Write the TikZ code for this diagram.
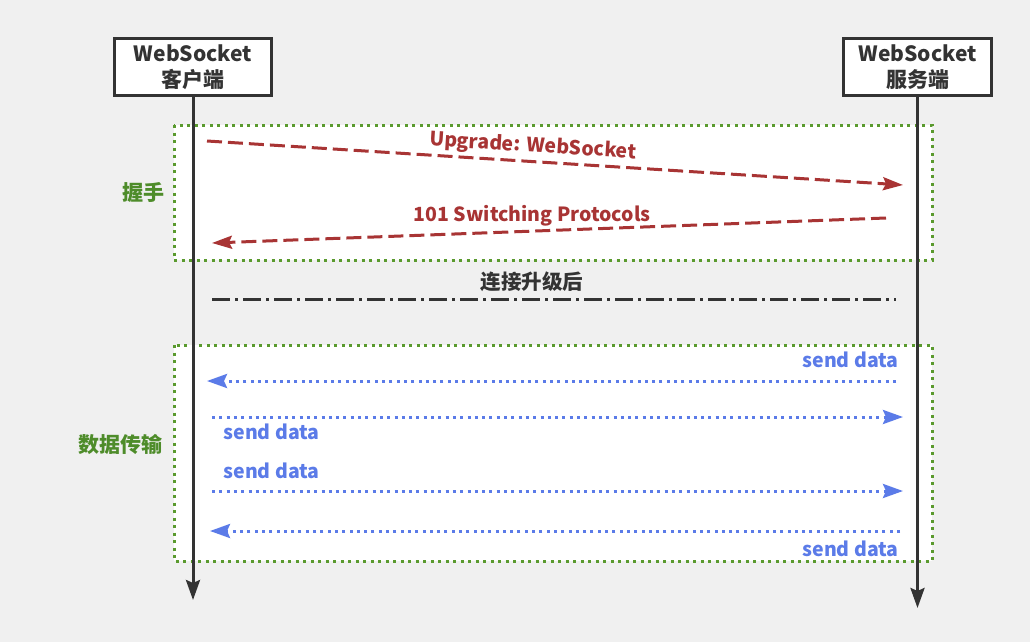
\documentclass[tikz,border=0pt]{standalone}
\usepackage{fontspec}
\setmainfont{Noto Sans CJK SC}
\usetikzlibrary{arrows.meta,positioning,calc}
\definecolor{bgc}{HTML}{F0F0F0}
\definecolor{drk}{HTML}{333333}
\definecolor{rd}{HTML}{A83434}
\definecolor{bl}{HTML}{5B7BE8}
\definecolor{grn}{HTML}{5A9A2E}
\definecolor{grt}{HTML}{4E8C2A}
\tikzset{actor/.style={draw=drk, line width=3pt, fill=white, minimum height=57pt, align=center, text=drk, font=\bfseries\fontsize{21}{26}\selectfont, inner sep=2pt}}
\tikzset{life/.style={draw=drk, line width=3pt}}
\tikzstyle{grp}=[draw=grn, fill=white, line width=3pt, dash pattern=on 3pt off 4.5pt]
\tikzstyle{glab}=[text=grt, font=\bfseries\fontsize{21}{24}\selectfont]
\tikzstyle{msg}=[draw=rd, line width=3pt, dash pattern=on 15pt off 6pt, -{Stealth[length=20pt,width=13pt,inset=3pt,fill=rd]}]
\tikzstyle{mlab}=[text=rd, font=\bfseries\fontsize{19.5}{22}\selectfont]
\tikzstyle{dat}=[draw=bl, line width=3pt, dash pattern=on 3pt off 4.3pt, -{Stealth[length=20pt,width=14pt,inset=3pt,fill=bl]}]
\tikzstyle{dlab}=[text=bl, font=\bfseries\fontsize{19.5}{22}\selectfont, inner sep=0pt]

\begin{document}
\begin{tikzpicture}[x=1pt, y=-1pt, >={Stealth[length=20pt,width=14pt,inset=3pt]}]
\fill[bgc] (0,0) rectangle (1030,642);
\useasboundingbox (0,0) rectangle (1030,642);

% groups
\draw[grp] (174,125) rectangle (932,260);
\draw[grp] (174,345) rectangle (932,561);
\node[glab, anchor=east] (L1) at (168,193) {握手};
\node[glab, anchor=east] (L2) at (166,444) {数据传输};

% actors
\node[actor, minimum width=157pt] (C) at (193,67) {WebSocket\\客户端};
\node[actor, minimum width=148pt, right=569pt of C] (S) {WebSocket\\服务端};
\coordinate (Ce) at (193,600);
\coordinate (Se) at (917,608);
\draw[life,->] (C) -- (C |- Ce);
\draw[life,->] (S) -- (S |- Se);

% handshake
\coordinate (u0) at (207,141);
\coordinate (u1) at (903,185);
\coordinate (r0) at (886,218);
\coordinate (r1) at (212,243);
\draw[msg] (u0) -- node[mlab, pos=0.467, sloped, above=0pt] {Upgrade: WebSocket} (u1);
\draw[msg] (r0) -- node[mlab, pos=0.525, above=0pt] {101 Switching Protocols} (r1);

% after upgrade
\coordinate (k0) at (212,299);
\coordinate (k1) at (896,299);
\draw[draw=drk, line width=3pt, dash pattern=on 18pt off 5pt on 3pt off 5pt] (k0) -- node[pos=0.468, above=2pt, text=drk, font=\bfseries\fontsize{20.5}{24}\selectfont] {连接升级后} (k1);

% data
\coordinate (d1a) at (896,381);
\coordinate (d1b) at (207,381);
\coordinate (d2a) at (212,417);
\coordinate (d2b) at (903,417);
\coordinate (d3a) at (212,491);
\coordinate (d3b) at (903,491);
\coordinate (d4a) at (900,531);
\coordinate (d4b) at (210,531);
\draw[dat] (d1a) -- node[dlab, pos=0, anchor=south east, yshift=12pt, xshift=4pt] {send data} (d1b);
\draw[dat] (d2a) -- node[dlab, pos=0, anchor=north west, yshift=-5pt, xshift=10pt] {send data} (d2b);
\draw[dat] (d3a) -- node[dlab, pos=0, anchor=south west, yshift=11pt, xshift=10pt] {send data} (d3b);
\draw[dat] (d4a) -- node[dlab, pos=0, anchor=north east, yshift=-8pt, xshift=0pt] {send data} (d4b);
\end{tikzpicture}
\end{document}
